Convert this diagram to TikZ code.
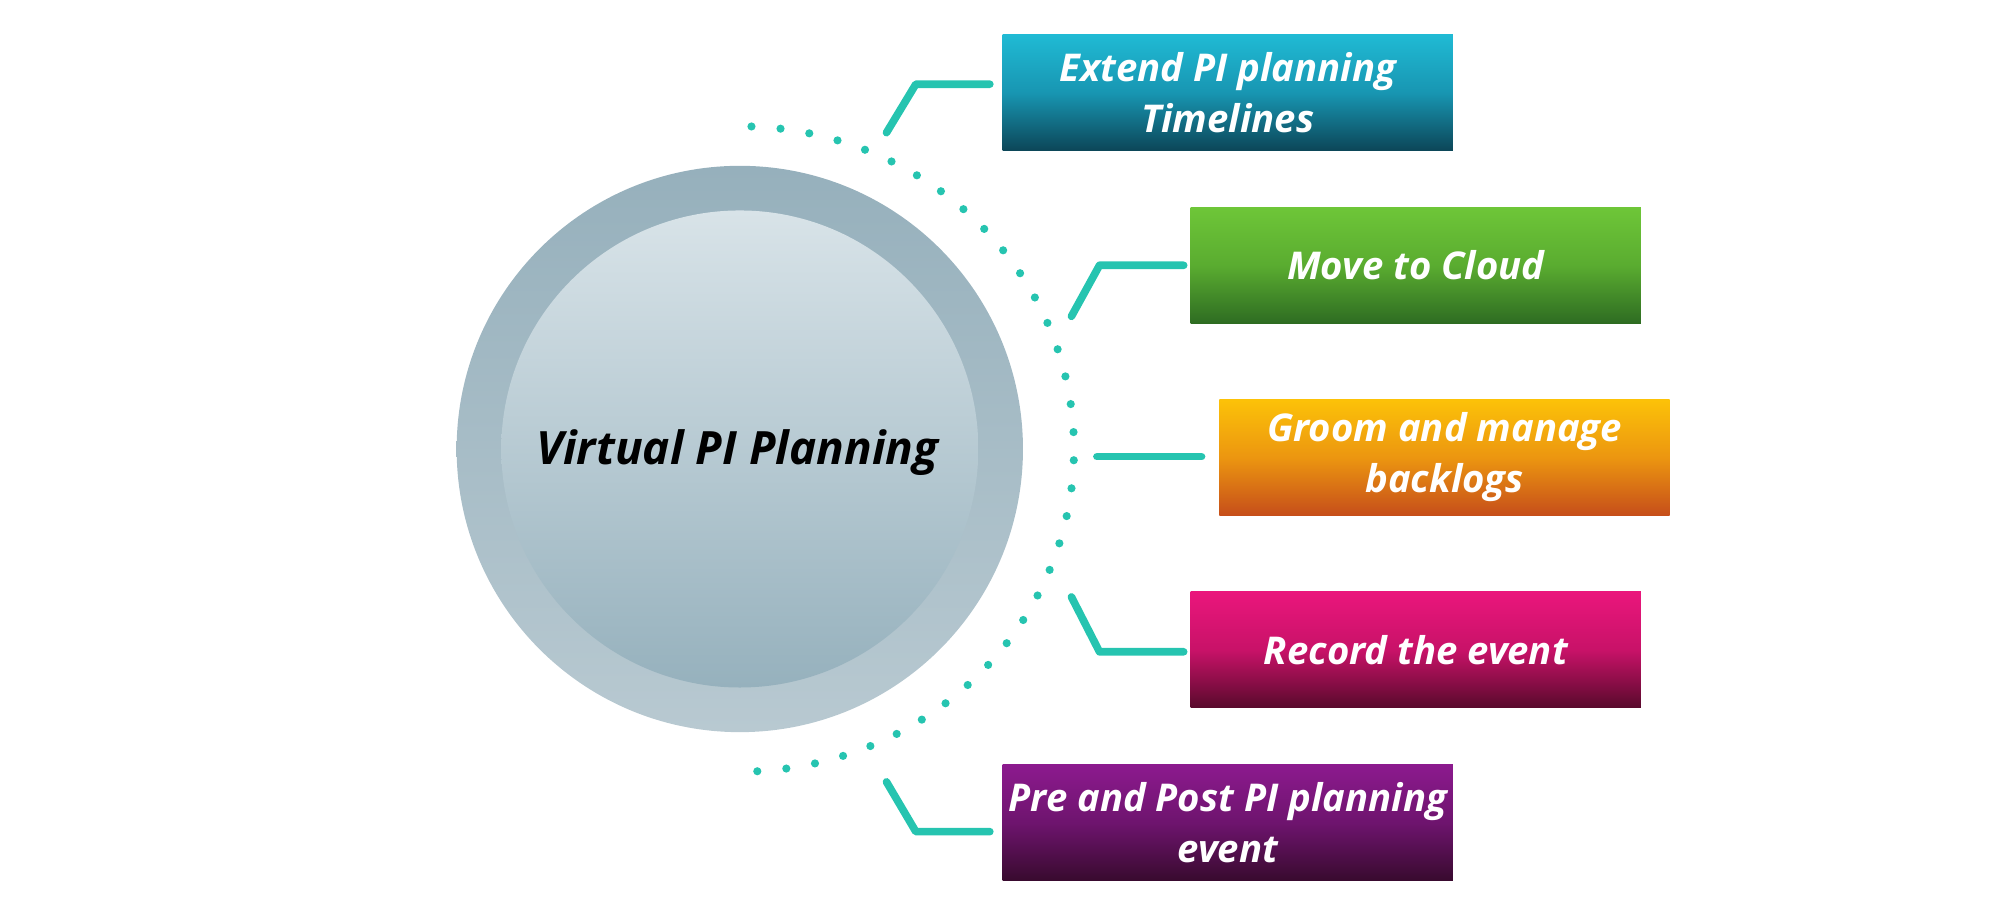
\documentclass[tikz,border=0pt]{standalone}
\usepackage{fontspec}
\setmainfont{Open Sans}
\usetikzlibrary{calc}
\begin{document}
\begin{tikzpicture}[x=0.5pt,y=-0.5pt,
  box/.style={rectangle,minimum width=176.5pt,minimum height=45.5pt,inner sep=0pt,align=center,text=white,font=\fontsize{15}{20}\selectfont\bfseries\itshape}]
\useasboundingbox (0,0) rectangle (1568,706);
\definecolor{tl}{RGB}{38,196,176}
\tikzset{link/.style={tl,line width=3pt,line cap=round,line join=round}}
\shade[top color={rgb,255:red,150;green,176;blue,188},bottom color={rgb,255:red,184;green,201;blue,209}] (580,352) circle[radius=222];
\shade[top color={rgb,255:red,216;green,227;blue,232},bottom color={rgb,255:red,150;green,177;blue,189}] (580,352) circle[radius=187];
\node[font=\fontsize{18}{22}\selectfont\bfseries\itshape] (c) at (578,355) {Virtual PI Planning};
\foreach \a in {-87,-82,...,88} \fill[tl] ($(580,352)+(\a:262 and -253)$) circle[radius=3.2];
\node[box,top color={rgb,255:red,32;green,186;blue,212},bottom color={rgb,255:red,12;green,70;blue,88},middle color={rgb,255:red,24;green,150;blue,178}] (b1) at (962.5,72.5) {Extend PI planning\\Timelines};
\node[box,top color={rgb,255:red,110;green,198;blue,56},bottom color={rgb,255:red,46;green,108;blue,34},middle color={rgb,255:red,90;green,172;blue,48}] (b2) at (1110,208) {Move to Cloud};
\node[box,top color={rgb,255:red,252;green,194;blue,8},bottom color={rgb,255:red,198;green,78;blue,26},middle color={rgb,255:red,236;green,150;blue,16}] (b3) at (1132.5,358.5) {Groom and manage\\backlogs};
\node[box,top color={rgb,255:red,234;green,22;blue,124},bottom color={rgb,255:red,88;green,10;blue,44},middle color={rgb,255:red,200;green,18;blue,104}] (b4) at (1110,509.5) {Record the event};
\node[box,top color={rgb,255:red,140;green,26;blue,142},bottom color={rgb,255:red,56;green,10;blue,46},middle color={rgb,255:red,110;green,20;blue,110}] (b5) at (962.5,645) {Pre and Post PI planning\\event};
\coordinate (s1) at (695,104); \coordinate (s2) at (840,248); \coordinate (s3) at (860,358);
\coordinate (s4) at (840,468); \coordinate (s5) at (695,613);
\coordinate (e1) at (776,66); \coordinate (e2) at (928,208); \coordinate (e3) at (942,358);
\coordinate (e4) at (928,511); \coordinate (e5) at (776,652);
\draw[link] (s1) -- (718,66) -- (e1);
\draw[link] (s2) -- (862,208) -- (e2);
\draw[link] (s3) -- (e3);
\draw[link] (s4) -- (862,511) -- (e4);
\draw[link] (s5) -- (718,652) -- (e5);
\end{tikzpicture}
\end{document}
